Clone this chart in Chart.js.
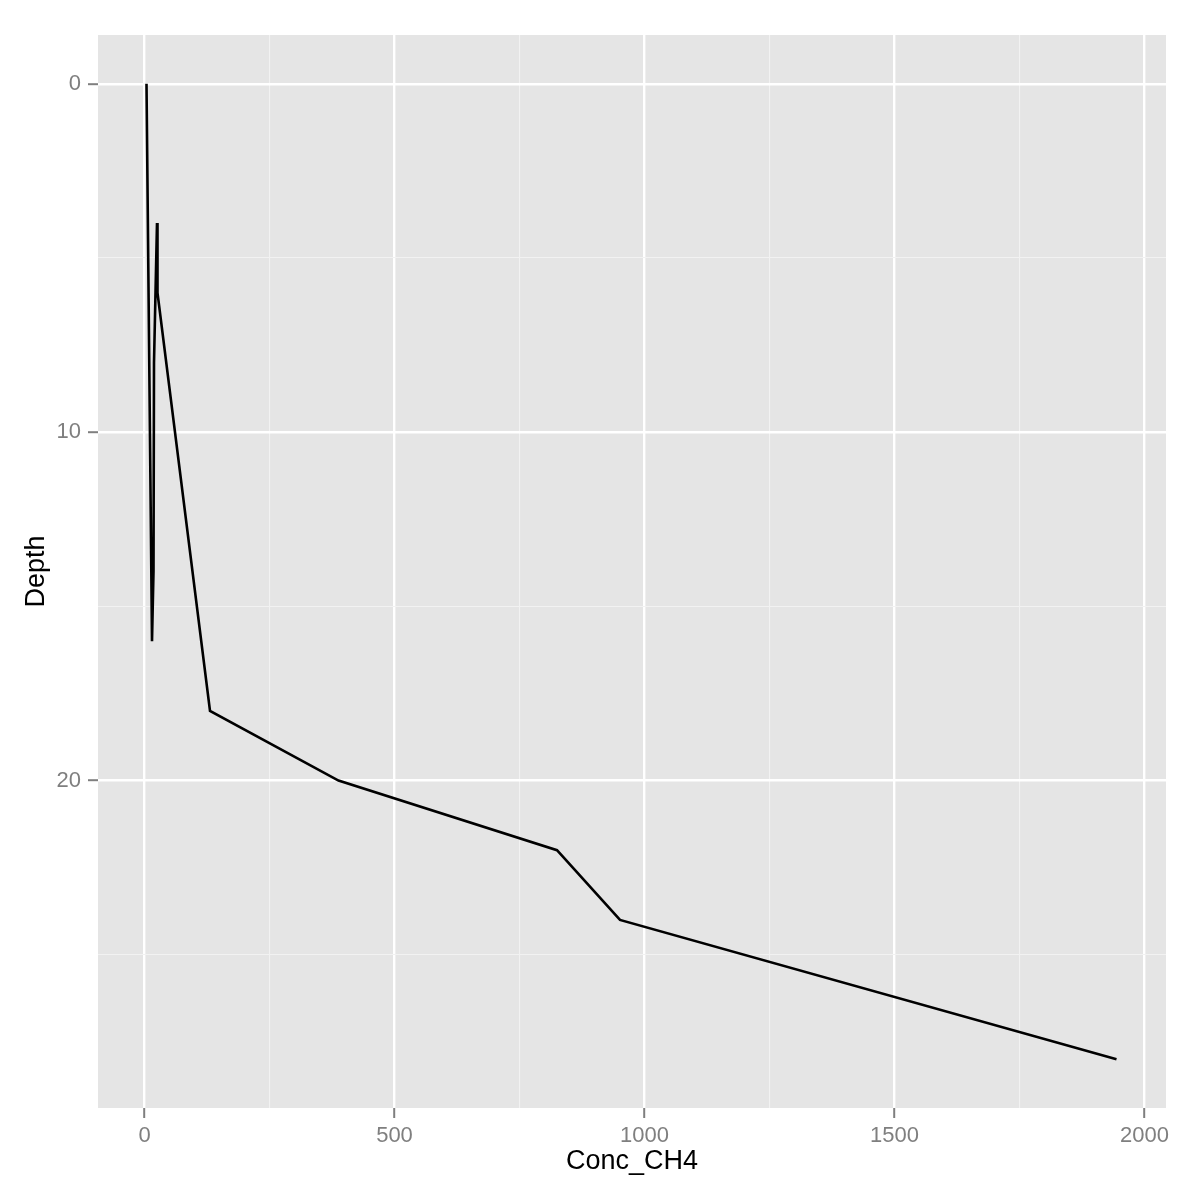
<!DOCTYPE html>
<html>
<head>
<meta charset="utf-8">
<title>Conc_CH4 vs Depth</title>
<script src="https://cdn.jsdelivr.net/npm/chart.js@4.4.1/dist/chart.umd.min.js"></script>
<style>
  html, body { margin: 0; padding: 0; background: #ffffff; }
  canvas { display: block; }
</style>
</head>
<body>
<canvas id="depthChart" width="1200" height="1199"></canvas>
<script>
// CH4 concentration profile, in the order the line is drawn (sorted by concentration)
const concCH4 = [4, 15, 18, 19, 25, 26, 131, 388, 825, 951, 1944];
const depth   = [0, 16, 14, 8, 4, 6, 18, 20, 22, 24, 28];

const xMajorTicks = [0, 500, 1000, 1500, 2000];
const xMinorTicks = [250, 750, 1250, 1750];
const yMajorTicks = [0, 10, 20];
const yMinorTicks = [5, 15, 25];

const tickGray = '#7F7F7F';

// grey panel behind the grid, like ggplot's theme_grey
const panelBackground = {
  id: 'panelBackground',
  beforeDraw(chart) {
    const { ctx, chartArea } = chart;
    ctx.save();
    ctx.fillStyle = '#ffffff';
    ctx.fillRect(0, 0, chart.width, chart.height);
    ctx.fillStyle = '#E5E5E5';
    ctx.fillRect(chartArea.left, chartArea.top,
      chartArea.right - chartArea.left, chartArea.bottom - chartArea.top);
    ctx.restore();
  }
};

const gridFor = (majors) => ({
  color: (c) => majors.includes(c.tick && c.tick.value) ? '#FFFFFF' : '#F2F2F2',
  lineWidth: (c) => majors.includes(c.tick && c.tick.value) ? 2.4 : 1.1,
  tickColor: (c) => majors.includes(c.tick && c.tick.value) ? tickGray : 'rgba(0,0,0,0)',
  tickWidth: 2,
  tickLength: 10
});

const points = concCH4.map((x, i) => ({ x: x, y: depth[i] }));

new Chart(document.getElementById('depthChart').getContext('2d'), {
  type: 'scatter',
  data: {
    datasets: [{
      data: points,
      showLine: true,
      borderColor: '#000000',
      borderWidth: 2.6,
      pointRadius: 0,
      fill: false,
      tension: 0
    }]
  },
  options: {
    responsive: false,
    animation: false,
    layout: { padding: { top: 35, right: 34, left: 0, bottom: 0 } },
    plugins: {
      legend: { display: false },
      tooltip: { enabled: false }
    },
    scales: {
      x: {
        type: 'linear',
        min: -93,
        max: 2043,
        afterBuildTicks: (s) => {
          s.ticks = xMajorTicks.concat(xMinorTicks).sort((a, b) => a - b).map(v => ({ value: v }));
        },
        afterFit: (s) => { s.height = 91; },
        border: { display: false },
        grid: gridFor(xMajorTicks),
        ticks: {
          color: tickGray,
          font: { family: 'Liberation Sans', size: 22 },
          padding: 5,
          maxRotation: 0,
          autoSkip: false,
          callback: (v) => xMajorTicks.includes(v) ? String(v) : ''
        },
        title: {
          display: true,
          text: 'Conc_CH4',
          color: '#000000',
          font: { family: 'Liberation Sans', size: 27 },
          padding: { top: 0, bottom: 21 }
        }
      },
      y: {
        type: 'linear',
        reverse: true,
        min: -1.4,
        max: 29.4,
        afterBuildTicks: (s) => {
          s.ticks = yMajorTicks.concat(yMinorTicks).sort((a, b) => a - b).map(v => ({ value: v }));
        },
        afterFit: (s) => { s.width = 98; },
        border: { display: false },
        grid: gridFor(yMajorTicks),
        ticks: {
          color: tickGray,
          font: { family: 'Liberation Sans', size: 22 },
          padding: 7,
          autoSkip: false,
          callback: (v) => yMajorTicks.includes(v) ? String(v) : ''
        },
        title: {
          display: true,
          text: 'Depth',
          color: '#000000',
          font: { family: 'Liberation Sans', size: 27 },
          padding: { top: 20, bottom: 0 }
        }
      }
    }
  },
  plugins: [panelBackground]
});
</script>
</body>
</html>
